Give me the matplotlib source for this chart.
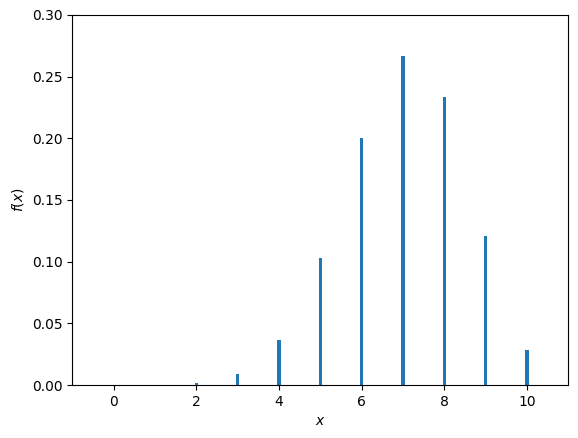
import matplotlib
matplotlib.use("Agg")
import matplotlib.pyplot as plt

x = [0, 1, 2, 3, 4, 5, 6, 7, 8, 9, 10]
fx = [0.0000059, 0.000138, 0.00145, 0.009, 0.0368, 0.1029, 0.2001, 0.2668, 0.2335, 0.1211, 0.0282]

fig, ax = plt.subplots(figsize=(5.78, 4.38), dpi=100)
fig.subplots_adjust(left=0.125, right=0.983, top=0.966, bottom=0.121)
ax.bar(x, fx, width=0.08, color="#1f77b4")
ax.set_xlim(-1, 11)
ax.set_ylim(0, 0.3)
ax.set_xlabel("$x$")
ax.set_ylabel("$f(x)$")
fig.savefig("out.png", dpi=100)
